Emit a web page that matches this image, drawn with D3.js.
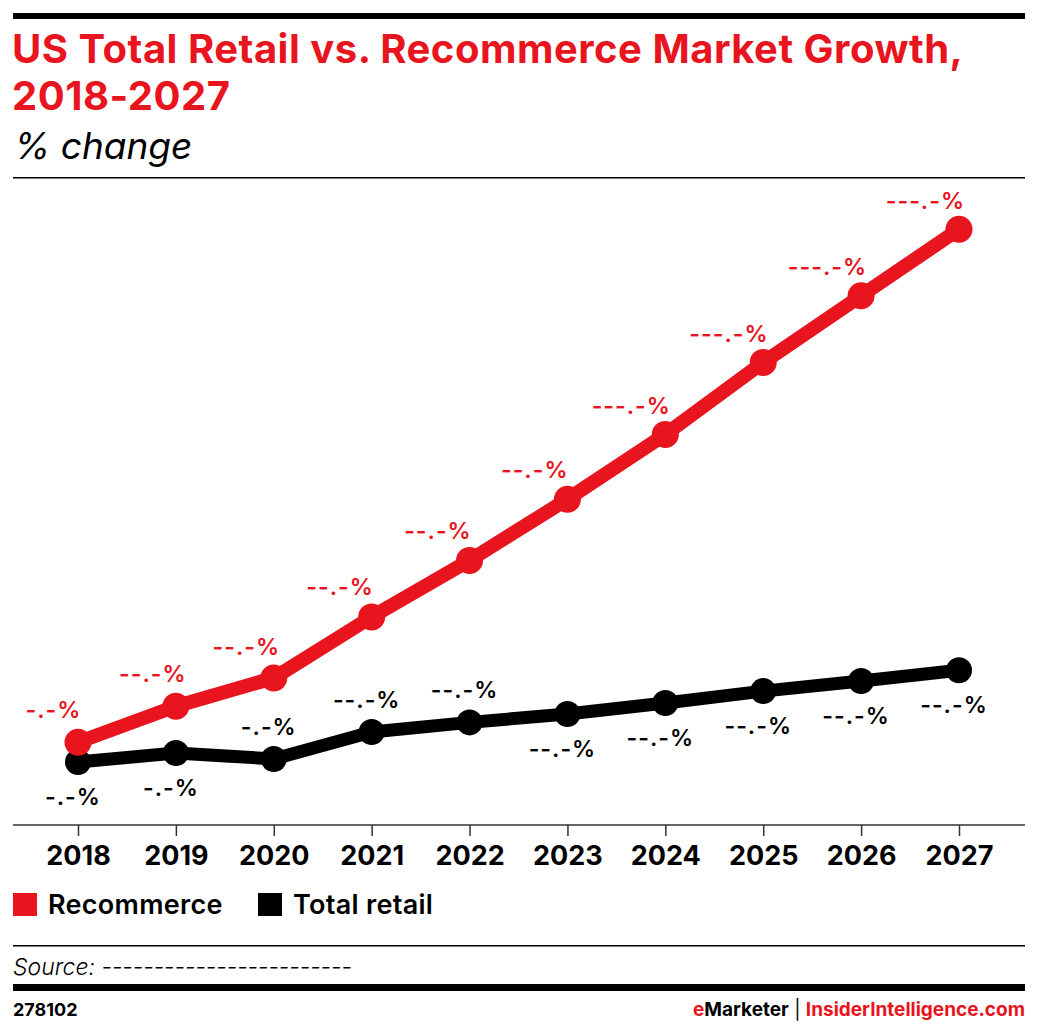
<!DOCTYPE html>
<html>
<head>
<meta charset="utf-8">
<script src="https://cdn.jsdelivr.net/npm/d3@7"></script>
<style>
  body { margin: 0; background: #fff; }
  svg { display: block; font-family: "Inter", "Lato", sans-serif; }
</style>
</head>
<body>
<script>
// data
var years = ["2018", "2019", "2020", "2021", "2022", "2023", "2024", "2025", "2026", "2027"];
var recommerce = [11, 31, 46.7, 80.6, 112, 146, 182, 222, 259, 296];
var totalRetail = [0, 5, 1.7, 16.7, 22, 26.7, 32.8, 39.4, 45, 51];
var recommerceLabels = ["-.-%", "--.-%", "--.-%", "--.-%", "--.-%", "--.-%", "---.-%", "---.-%", "---.-%", "---.-%"];
var retailLabels = ["-.-%", "-.-%", "-.-%", "--.-%", "--.-%", "--.-%", "--.-%", "--.-%", "--.-%", "--.-%"];
var seriesNames = ["Recommerce", "Total retail"];

var red = "#e8141e";
var width = 1038, height = 1033;
var retailAbove = ["2020", "2021", "2022"]; // labels drawn above black line

var svg = d3.select("body").append("svg")
    .attr("width", width)
    .attr("height", height);

//header rules and titles
svg.append("rect").attr("x", 13).attr("y", 13).attr("width", 1012).attr("height", 6).attr("fill", "#000");
svg.append("text").attr("x", 12).attr("y", 63)
    .attr("fill", red).attr("font-size", 40).attr("font-weight", 700)
    .attr("letter-spacing", 0.5)
    .text("US Total Retail vs. Recommerce Market Growth,");
svg.append("text").attr("x", 12).attr("y", 110)
    .attr("fill", red).attr("font-size", 40).attr("font-weight", 700)
    .attr("letter-spacing", 0.5)
    .text("2018-2027");
svg.append("text").attr("x", 14).attr("y", 159)
    .attr("fill", "#000").attr("font-size", 37).attr("font-style", "italic").attr("font-weight", 400)
    .text("% change");
svg.append("rect").attr("x", 13).attr("y", 177).attr("width", 1012).attr("height", 1.5).attr("fill", "#000");

//scales
var x = d3.scalePoint()
    .domain(years)
    .range([78, 959]);

var y = d3.scaleLinear()
    .domain([-35, 320])
    .range([825, 186]);

//axis
var xAxis = svg.append("g")
    .attr("transform", "translate(0," + y(-35) + ")")
    .call(d3.axisBottom(x).tickSize(11).tickPadding(10));
xAxis.select(".domain").attr("d", "M13,0H1025").attr("stroke", "#333").attr("stroke-width", 1.5);
xAxis.selectAll(".tick line").attr("stroke", "#333").attr("stroke-width", 1.5);
xAxis.selectAll(".tick text")
    .attr("font-size", 27).attr("font-weight", 700).attr("fill", "#000")
    .attr("font-family", "Inter, Lato, sans-serif");

var line = d3.line()
    .x(function(d, i){ return x(years[i]); })
    .y(function(d){ return y(d); });

function drawSeries(values, color, lw, r){
    svg.append("path")
        .datum(values)
        .attr("d", line)
        .attr("fill", "none")
        .attr("stroke", color)
        .attr("stroke-width", lw)
        .attr("stroke-linejoin", "round");
    svg.selectAll(null)
        .data(values)
        .enter()
        .append("circle")
        .attr("cx", function(d, i){ return x(years[i]); })
        .attr("cy", function(d){ return y(d); })
        .attr("r", r)
        .attr("fill", color);
}

drawSeries(totalRetail, "#000", 13, 13);
drawSeries(recommerce, red, 14, 13.5);

//recommerce labels placed up-left, perpendicular to the line
svg.selectAll(null)
    .data(recommerce)
    .enter()
    .append("text")
    .attr("transform", function(d, i){
        var a = Math.max(0, i - 1), b = Math.min(years.length - 1, i + 1);
        var dx = x(years[b]) - x(years[a]), dy = y(recommerce[b]) - y(recommerce[a]);
        var len = Math.sqrt(dx * dx + dy * dy);
        var nx = dy / len, ny = -dx / len;
        var px = x(years[i]) + nx * 42 - 10, py = y(d) + ny * 32 + 6;
        return "translate(" + px + "," + py + ")";
    })
    .attr("text-anchor", "middle")
    .attr("fill", red)
    .attr("font-size", 23)
    .attr("font-weight", 600)
    .attr("letter-spacing", 1)
    .text(function(d, i){ return recommerceLabels[i]; });

//total retail labels
svg.selectAll(null)
    .data(totalRetail)
    .enter()
    .append("text")
    .attr("x", function(d, i){ return x(years[i]) - 5; })
    .attr("y", function(d, i){
        return retailAbove.indexOf(years[i]) >= 0 ? y(d) - 24 : y(d) + 43;
    })
    .attr("text-anchor", "middle")
    .attr("fill", "#000")
    .attr("font-size", 23)
    .attr("font-weight", 600)
    .attr("letter-spacing", 1)
    .text(function(d, i){ return retailLabels[i]; });

//legend
var legend = svg.append("g").attr("transform", "translate(13,893)");
var legX = [0, 245];
seriesNames.forEach(function(name, i){
    var g = legend.append("g").attr("transform", "translate(" + legX[i] + ",0)");
    g.append("rect").attr("width", 24).attr("height", 23).attr("fill", i === 0 ? red : "#000");
    g.append("text").attr("x", 35).attr("y", 21)
        .attr("font-size", 27).attr("font-weight", 600).attr("fill", "#000")
        .attr("letter-spacing", 0.3)
        .text(name);
});

//footer
svg.append("rect").attr("x", 13).attr("y", 945).attr("width", 1012).attr("height", 1.5).attr("fill", "#000");
svg.append("text").attr("x", 13).attr("y", 975)
    .attr("font-size", 23).attr("font-style", "italic").attr("font-weight", 300).attr("fill", "#000")
    .text("Source: ------------------------");
svg.append("rect").attr("x", 13).attr("y", 984).attr("width", 1012).attr("height", 7).attr("fill", "#000");
svg.append("text").attr("x", 13).attr("y", 1016)
    .attr("font-size", 18).attr("font-weight", 700).attr("fill", "#000")
    .text("278102");
var foot = svg.append("text").attr("x", 1025).attr("y", 1016)
    .attr("text-anchor", "end").attr("font-size", 19).attr("font-weight", 700);
foot.append("tspan").attr("fill", red).text("e");
foot.append("tspan").attr("fill", "#000").text("Marketer");
foot.append("tspan").attr("fill", "#000").attr("font-weight", 400).text("  |  ");
foot.append("tspan").attr("fill", red).text("InsiderIntelligence.com");
</script>
</body>
</html>
